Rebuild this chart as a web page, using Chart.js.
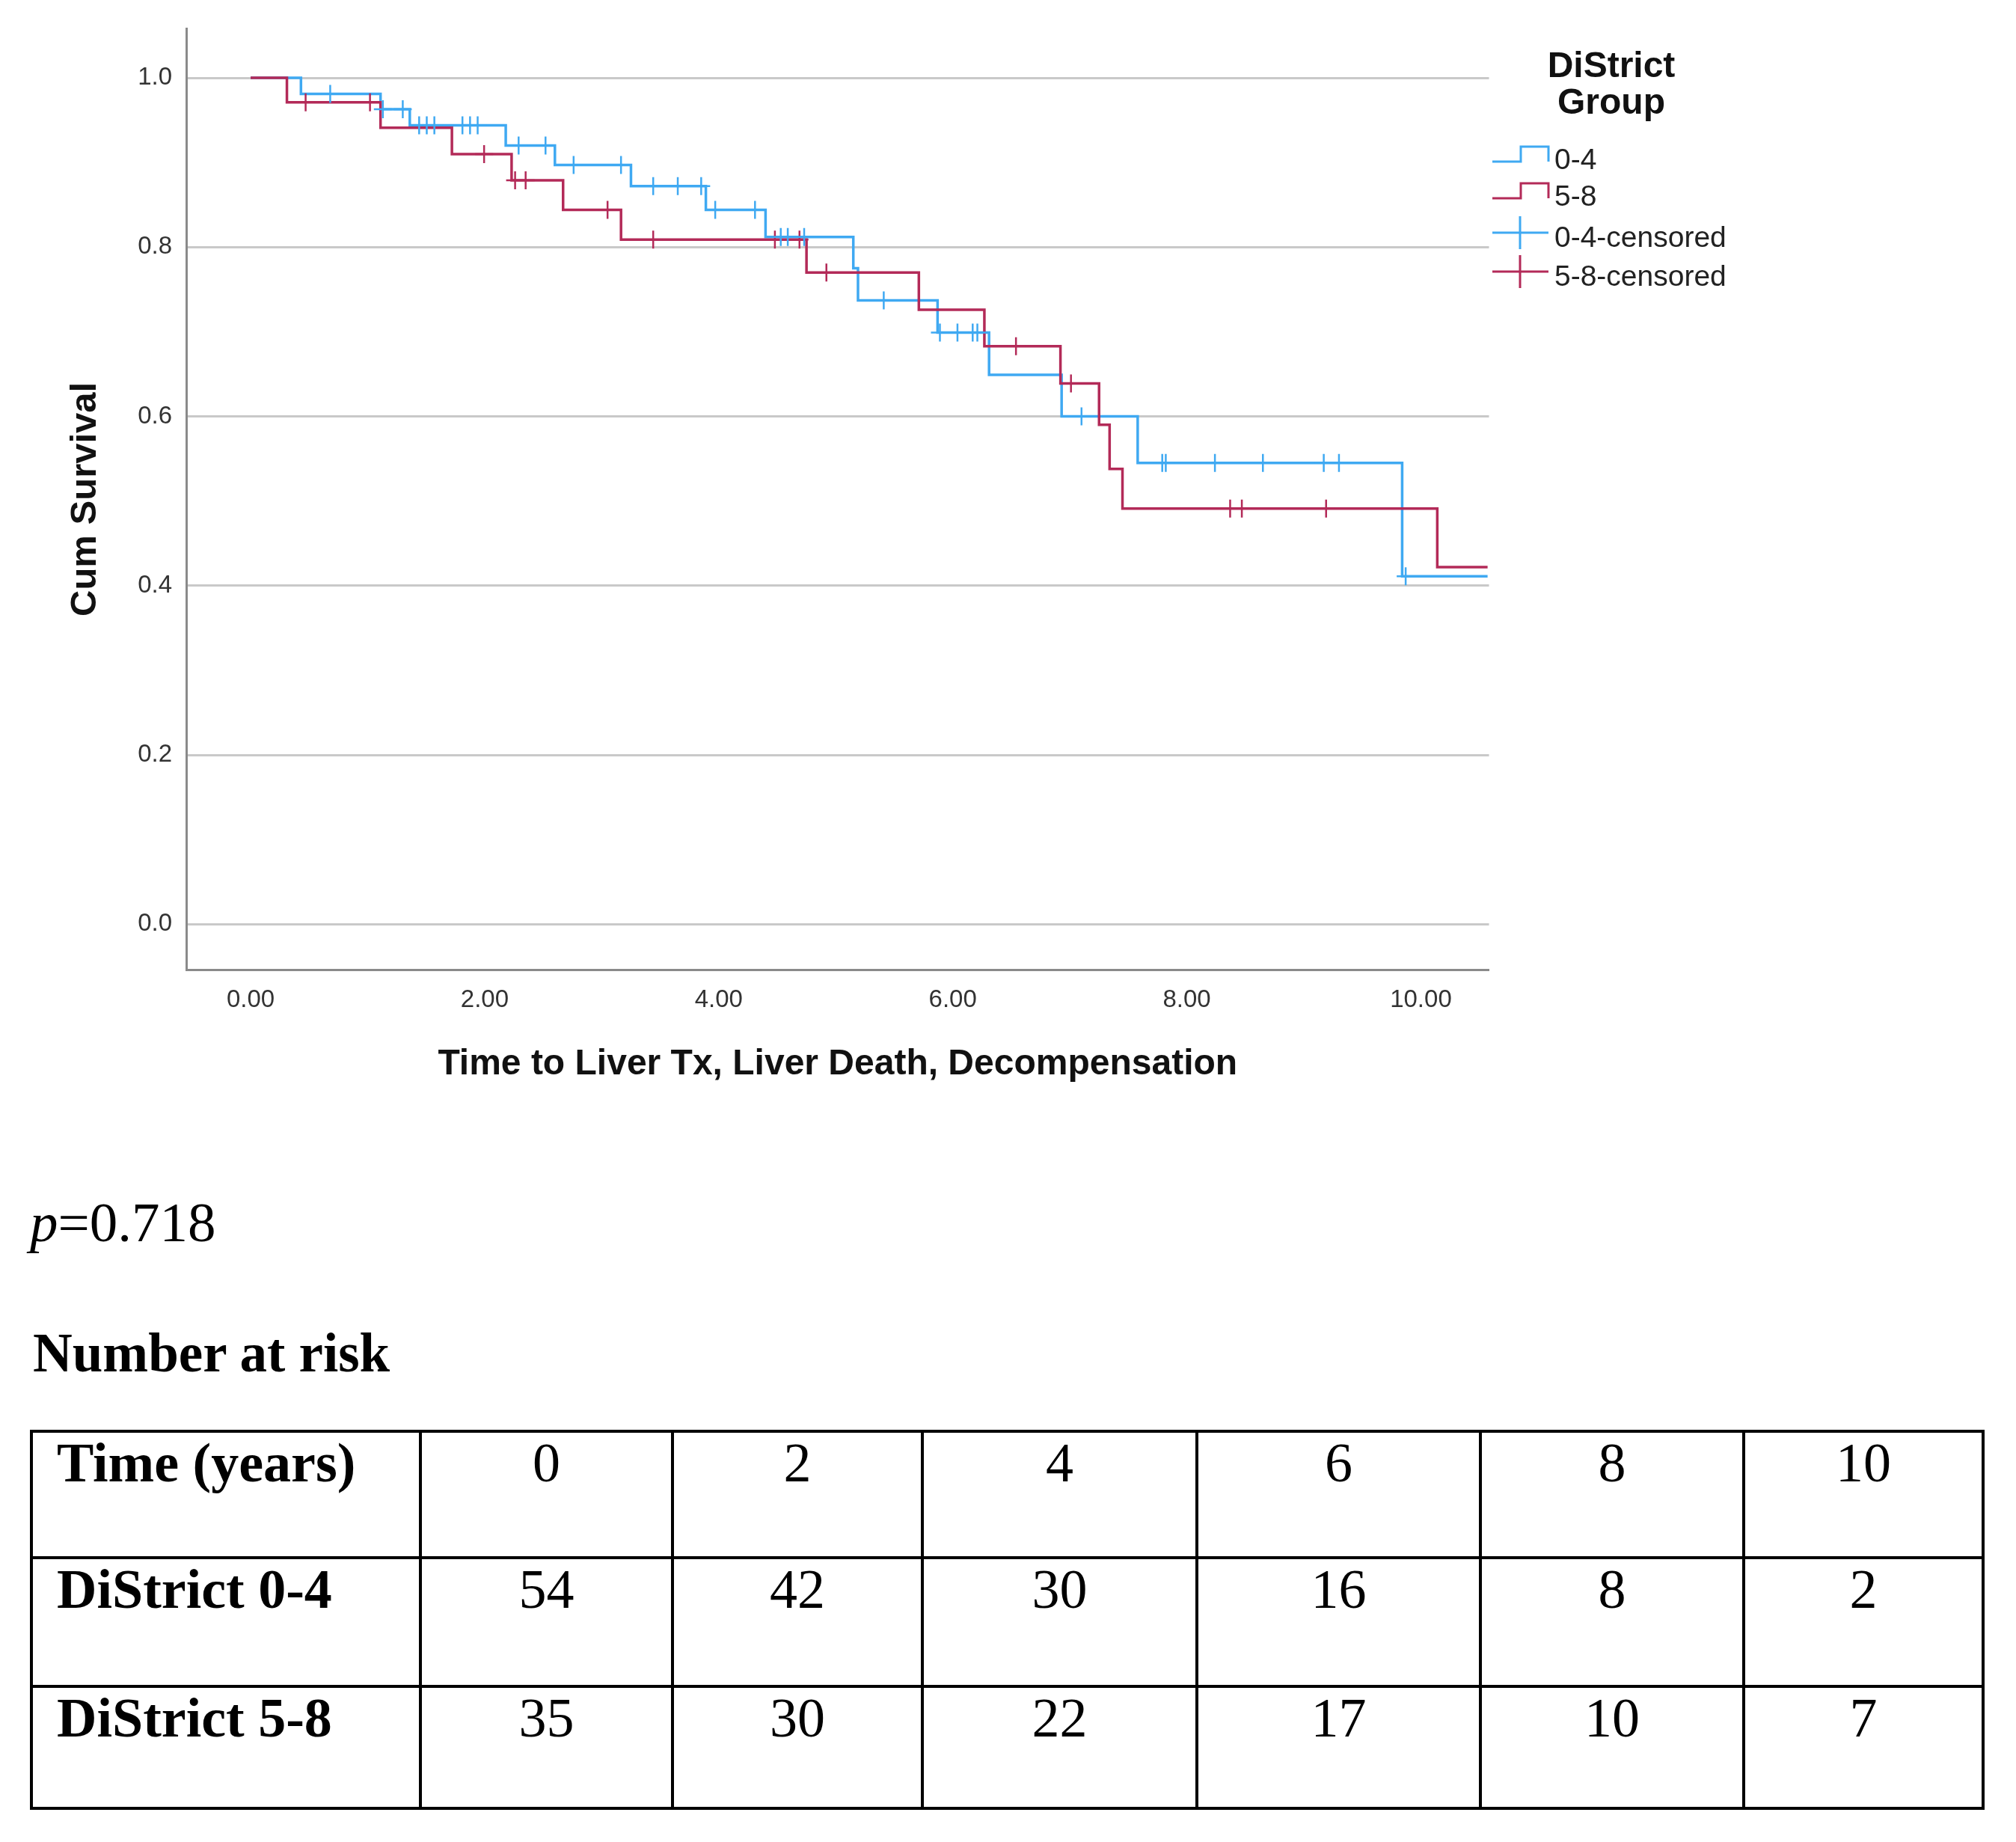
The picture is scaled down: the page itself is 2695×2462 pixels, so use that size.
<!DOCTYPE html>
<html>
<head>
<meta charset="utf-8">
<script src="https://cdn.jsdelivr.net/npm/chart.js@4.4.1/dist/chart.umd.min.js"></script>
<style>
    body { margin: 0; background: #fff; width: 2695px; height: 2462px; overflow: hidden; position: relative; }
    #km-wrap { position: absolute; left: 0; top: 0; width: 2005px; height: 1500px; }
    .legend-title { position: absolute; left: 2000px; top: 62px; width: 308px; text-align: center;
        font: bold 48px 'Liberation Sans', Arial, sans-serif; line-height: 49px; color: #111; }
    .legend-item { position: absolute; left: 2078px; font: 39px 'Liberation Sans', Arial, sans-serif;
        line-height: 39px; color: #222; white-space: nowrap; }
    .legend-sym { position: absolute; left: 1993px; }
    .pval { position: absolute; left: 40px; top: 1596px; font: 75px 'Liberation Serif', 'Times New Roman', serif;
        line-height: 75px; color: #000; }
    .pval i { font-style: italic; }
    .risk-title { position: absolute; left: 44px; top: 1772px; font: bold 73px 'Liberation Serif', 'Times New Roman', serif;
        line-height: 73px; color: #000; }
    #risk { position: absolute; left: 40px; top: 1911px; border-collapse: collapse; table-layout: fixed;
        font: 74px 'Liberation Serif', 'Times New Roman', serif; color: #000; }
    #risk td { border: 4px solid #000; vertical-align: top; text-align: center; padding: 0;
        line-height: 80px; box-sizing: border-box; }
    #risk td.rowhead { text-align: left; font-weight: bold; padding-left: 32px; }
</style>
</head>
<body>
<div id="km-wrap"><canvas id="km-canvas" width="2005" height="1500"></canvas></div>
<div id="legend"></div>
<div class="pval"><i>p</i>=0.718</div>
<div class="risk-title">Number at risk</div>
<table id="risk"><colgroup></colgroup><tbody></tbody></table>

<script>
const blueColor = '#3fa9f2';
const redColor = '#b32a58';

const groupLabels = ['0-4', '5-8'];

// Kaplan-Meier steps (time, cum survival after the event)
const eventTimes04 = [0, 0.43, 1.11, 1.36, 2.18, 2.60, 3.25, 3.89, 4.40, 5.15, 5.19, 5.87, 6.31, 6.93, 7.58, 9.84, 10.57];
const survival04   = [1.0, 0.981, 0.963, 0.944, 0.920, 0.897, 0.872, 0.844, 0.812, 0.775, 0.737, 0.699, 0.649, 0.600, 0.545, 0.411, 0.411];
const censored04   = [0.68, 1.13, 1.30, 1.44, 1.505, 1.57, 1.81, 1.875, 1.94, 2.29, 2.52, 2.76, 3.165, 3.44, 3.65, 3.85,
                      3.97, 4.31, 4.53, 4.59, 4.73, 5.41, 5.89, 6.04, 6.17, 6.21, 7.10, 7.79, 7.82, 8.24, 8.65, 9.17, 9.30, 9.87];

const eventTimes58 = [0, 0.31, 1.11, 1.72, 2.23, 2.67, 3.165, 4.75, 5.71, 6.27, 6.92, 7.25, 7.34, 7.45, 10.14, 10.57];
const survival58   = [1.0, 0.971, 0.941, 0.910, 0.879, 0.844, 0.809, 0.770, 0.726, 0.683, 0.639, 0.590, 0.538, 0.491, 0.422, 0.422];
const censored58   = [0.47, 1.02, 1.995, 2.26, 2.35, 3.05, 3.44, 4.48, 4.69, 4.92, 6.54, 7.01, 8.37, 8.47, 9.19];

const xTicks = [0, 2, 4, 6, 8, 10];
const yTicks = [0, 0.2, 0.4, 0.6, 0.8, 1.0];

// number at risk table
const riskHeader = 'Time (years)';
const riskTimes = [0, 2, 4, 6, 8, 10];
const riskRows = ['DiStrict 0-4', 'DiStrict 5-8'];
const risk04 = [54, 42, 30, 16, 8, 2];
const risk58 = [35, 30, 22, 17, 10, 7];

const survAt = (times, surv, t) => {
    let s = surv[0];
    for (let i = 0; i < times.length; i++) if (times[i] <= t) s = surv[i];
    return s;
};

const curve = (times, surv) => times.map((t, i) => ({ x: t, y: surv[i] }));
const marks = (cens, times, surv) => cens.map(t => ({ x: t, y: survAt(times, surv, t) }));

// stepped 'before' = run flat to the next time, then drop
const lineSet = (label, data, color, order) => ({
    label, data, order,
    borderColor: color, backgroundColor: color,
    borderWidth: 3.5, stepped: 'before', pointRadius: 0, showLine: true, fill: false
});
const censSet = (label, data, color) => ({
    label, data, order: 0,
    borderColor: color, backgroundColor: color,
    borderWidth: 2.5, showLine: false, pointStyle: 'cross', pointRadius: 12, pointHoverRadius: 12
});

document.addEventListener('DOMContentLoaded', () => {
    Chart.defaults.font.family = "'Liberation Sans', Arial, sans-serif";
    Chart.defaults.color = '#333';

    new Chart(document.getElementById('km-canvas'), {
        type: 'scatter',
        data: {
            datasets: [
                lineSet(groupLabels[0], curve(eventTimes04, survival04), blueColor, 2),
                lineSet(groupLabels[1], curve(eventTimes58, survival58), redColor, 1),
                censSet(groupLabels[0] + '-censored', marks(censored04, eventTimes04, survival04), blueColor),
                censSet(groupLabels[1] + '-censored', marks(censored58, eventTimes58, survival58), redColor)
            ]
        },
        options: {
            responsive: false,
            animation: false,
            layout: { padding: { left: 0, top: 34, right: 5, bottom: 0 } },
            plugins: { legend: { display: false }, tooltip: { enabled: false } },
            scales: {
                x: {
                    type: 'linear',
                    min: -0.55,
                    max: 10.582,
                    afterBuildTicks: axis => { axis.ticks = xTicks.map(v => ({ value: v })); },
                    afterFit: s => { s.height = 204; },
                    grid: { display: false, drawTicks: false },
                    border: { display: true, color: '#8a8a8a', width: 3 },
                    ticks: {
                        padding: 21,
                        color: '#333',
                        font: { size: 33 },
                        maxRotation: 0,
                        callback: v => Number(v).toFixed(2)
                    },
                    title: {
                        display: true,
                        text: 'Time to Liver Tx, Liver Death, Decompensation',
                        color: '#111',
                        font: { size: 48, weight: 'bold' },
                        padding: { top: 0, bottom: 48 }
                    }
                },
                y: {
                    type: 'linear',
                    min: -0.0537,
                    max: 1.0577,
                    afterBuildTicks: axis => { axis.ticks = yTicks.map(v => ({ value: v })); },
                    afterFit: s => { s.width = 249; },
                    grid: { color: '#c9c9c9', lineWidth: 3, drawTicks: false },
                    border: { display: true, color: '#8a8a8a', width: 3 },
                    ticks: {
                        padding: 19,
                        color: '#333',
                        font: { size: 33 },
                        callback: v => Number(v).toFixed(1)
                    },
                    title: {
                        display: true,
                        text: 'Cum Survival',
                        color: '#111',
                        font: { size: 49, weight: 'bold' },
                        padding: { top: 85, bottom: 0 }
                    }
                }
            }
        }
    });

    // legend
    const legend = document.getElementById('legend');
    const title = document.createElement('div');
    title.className = 'legend-title';
    title.innerHTML = 'DiStrict<br>Group';
    legend.appendChild(title);

    const items = [
        { text: groupLabels[0], color: blueColor, kind: 'step', cy: 212 },
        { text: groupLabels[1], color: redColor, kind: 'step', cy: 261 },
        { text: groupLabels[0] + '-censored', color: blueColor, kind: 'cross', cy: 316 },
        { text: groupLabels[1] + '-censored', color: redColor, kind: 'cross', cy: 368 }
    ];
    items.forEach(it => {
        const sym = document.createElementNS('http://www.w3.org/2000/svg', 'svg');
        sym.setAttribute('class', 'legend-sym');
        sym.setAttribute('width', '82');
        sym.setAttribute('height', '50');
        sym.style.top = (it.cy - 30) + 'px';
        const path = document.createElementNS('http://www.w3.org/2000/svg', 'path');
        path.setAttribute('d', it.kind === 'step'
            ? 'M2 34 H40 V14 H77 V34'
            : 'M2 25 H77 M39 3 V47');
        path.setAttribute('stroke', it.color);
        path.setAttribute('stroke-width', '3');
        path.setAttribute('fill', 'none');
        sym.appendChild(path);
        legend.appendChild(sym);

        const label = document.createElement('div');
        label.className = 'legend-item';
        label.style.top = (it.cy - 19) + 'px';
        label.textContent = it.text;
        legend.appendChild(label);
    });

    // number at risk table
    const colWidths = [520, 337, 334, 367, 379, 352, 320];
    const rowHeights = [169, 172, 163];
    const table = document.getElementById('risk');
    const colgroup = table.querySelector('colgroup');
    colWidths.forEach(w => {
        const c = document.createElement('col');
        c.style.width = w + 'px';
        colgroup.appendChild(c);
    });
    table.style.width = colWidths.reduce((a, b) => a + b, 0) + 'px';
    const rows = [
        [riskHeader, ...riskTimes],
        [riskRows[0], ...risk04],
        [riskRows[1], ...risk58]
    ];
    const tbody = table.querySelector('tbody');
    rows.forEach((r, ri) => {
        const tr = document.createElement('tr');
        tr.style.height = rowHeights[ri] + 'px';
        r.forEach((v, ci) => {
            const td = document.createElement('td');
            if (ci === 0) td.className = 'rowhead';
            td.textContent = v;
            td.style.height = rowHeights[ri] + 'px';
            tr.appendChild(td);
        });
        tbody.appendChild(tr);
    });
});
</script>
</body>
</html>
